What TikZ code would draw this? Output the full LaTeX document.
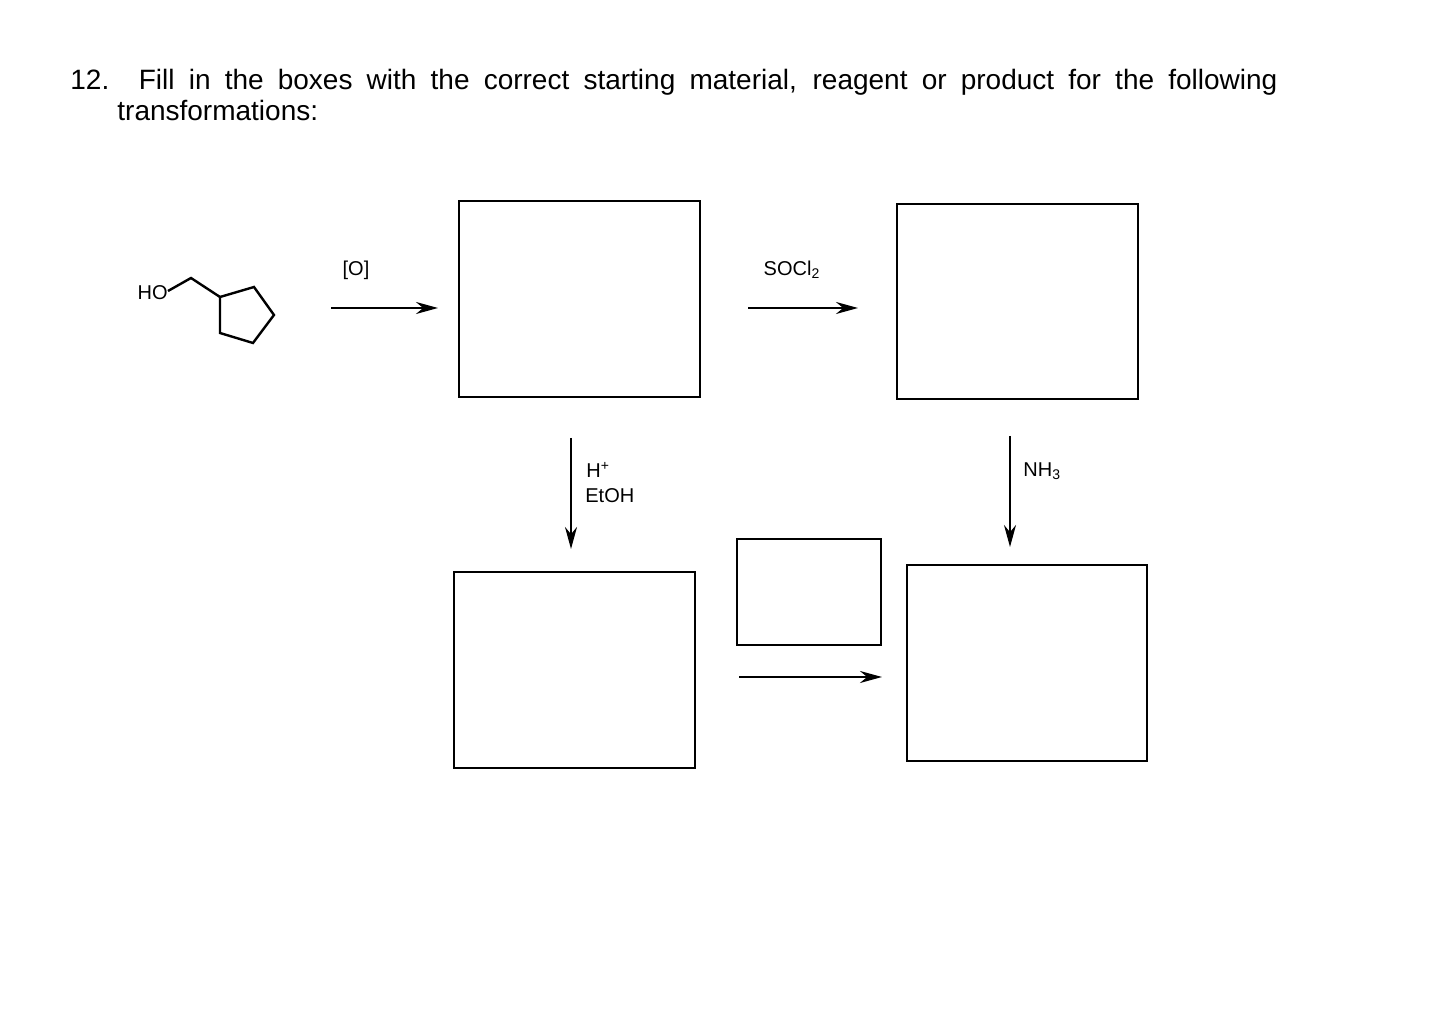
\documentclass[tikz,border=0pt]{standalone}
\usepackage{fontspec}
\setmainfont{Liberation Sans}
\usetikzlibrary{arrows.meta}
\begin{document}
\begin{tikzpicture}[x=0.5pt,y=-0.5pt,
  box/.style={draw,line width=1.2pt},
  rxn/.style={line width=1.1pt,-{Stealth[length=11pt,width=6pt]}},
  bond/.style={line width=1.2pt,line join=miter},
  ttl/.style={anchor=base west,inner sep=0pt,font=\fontsize{14pt}{15.5pt}\selectfont},
  lbl/.style={font=\fontsize{10pt}{12pt}\selectfont,inner sep=0pt}]
\useasboundingbox (0,0) rectangle (1440,1036);
\node[ttl] (title1) at (70,90) {\makebox[603.5pt][s]{12. Fill in the boxes with the correct starting material, reagent or product for the following}};
\node[ttl] (title2) at (117,121) {transformations:};
% molecule
\node[lbl,anchor=east] (ho) at (168,293) {HO};
\coordinate (c1) at (191,278);
\coordinate (r1) at (220,297);
\coordinate (r2) at (254,287);
\coordinate (r3) at (274,315);
\coordinate (r4) at (253,343);
\coordinate (r5) at (220,333);
\draw[bond] (ho.east) ++(0,-2) -- (c1) -- (r1);
\draw[bond] (r1) -- (r2) -- (r3) -- (r4) -- (r5) -- cycle;
% boxes
\node[box,minimum width=120.5pt,minimum height=98pt,anchor=north west] (b1) at (458,200) {};
\node[box,minimum width=120.5pt,minimum height=97.5pt,anchor=north west] (b2) at (896,203) {};
\node[box,minimum width=120.5pt,minimum height=98pt,anchor=north west] (b3) at (453,571) {};
\node[box,minimum width=120pt,minimum height=98pt,anchor=north west] (b4) at (906,564) {};
\node[box,minimum width=72pt,minimum height=53pt,anchor=north west] (b5) at (736,538) {};
% arrows
\coordinate (a1s) at (331,308); \coordinate (a1e) at (438,308);
\coordinate (a2s) at (748,308); \coordinate (a2e) at (858,308);
\coordinate (a3s) at (571,438); \coordinate (a3e) at (571,549);
\coordinate (a4s) at (1010,436); \coordinate (a4e) at (1010,547);
\coordinate (a5s) at (739,677); \coordinate (a5e) at (882,677);
\draw[rxn] (a1s) -- (a1e);
\draw[rxn] (a2s) -- (a2e);
\draw[rxn] (a3s) -- (a3e);
\draw[rxn] (a4s) -- (a4e);
\draw[rxn] (a5s) -- (a5e);
\node[lbl] (l1) at (356,270) {[O]};
\node[lbl] (l2) at (792,270) {SOCl\textsubscript{2}};
\node[lbl,anchor=west] (l3) at (586,470) {H\textsuperscript{+}};
\node[lbl,anchor=west] (l4) at (585,496) {EtOH};
\node[lbl,anchor=west] (l5) at (1023,471) {NH\textsubscript{3}};
\end{tikzpicture}
\end{document}
